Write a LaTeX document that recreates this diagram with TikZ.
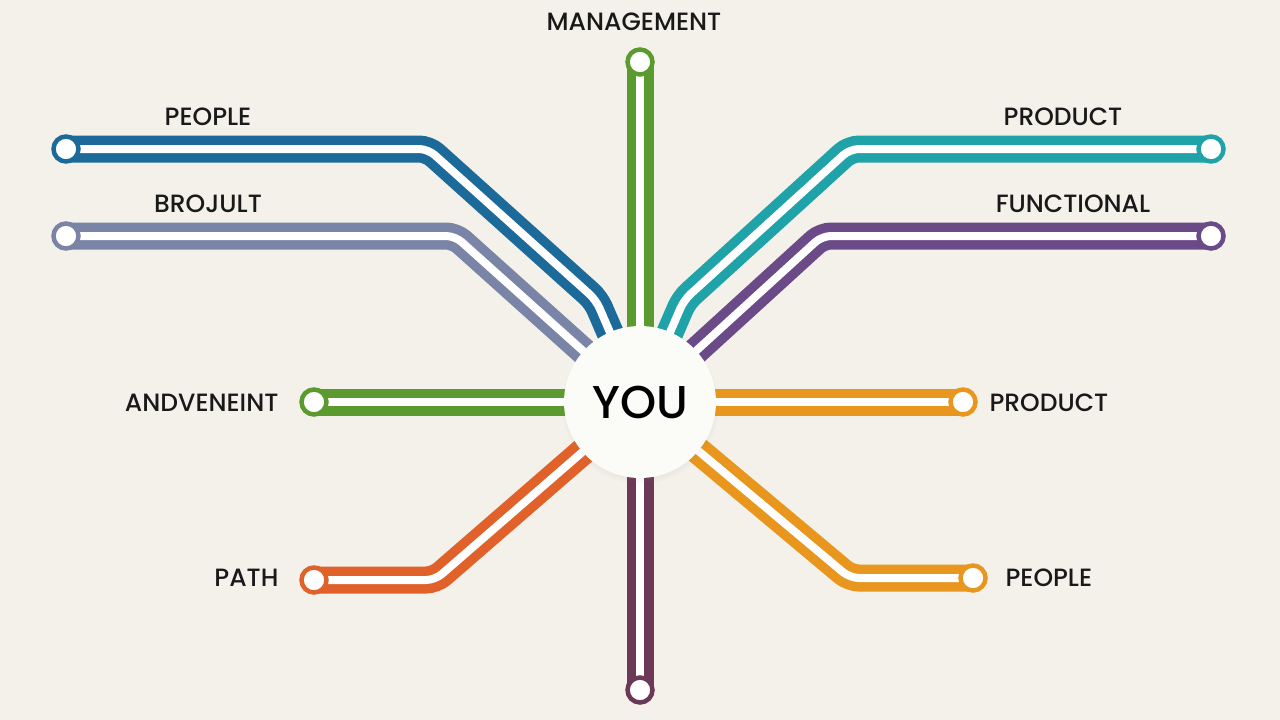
\documentclass[tikz,border=0pt]{standalone}
\usepackage{fontspec}
\setmainfont{Poppins}[UprightFont={* Medium}]
\usetikzlibrary{backgrounds,shadows}

\tikzset{
  metro/.style={line width=9.5pt, draw=#1, double=white, double distance=8pt, rounded corners=9pt},
  stop/.style={circle, draw=#1, line width=4.5pt, fill=white, minimum size=25pt, inner sep=0pt},
  lbl/.style={font=\fontsize{25}{25}\selectfont, text=black!90}
}

\begin{document}
\begin{tikzpicture}[x=1pt,y=-1pt]
% Colors define
\definecolor{myBg}{HTML}{F3F1E9}
\definecolor{myBlue}{HTML}{1B6A9A}
\definecolor{mySlate}{HTML}{7A84A6}
\definecolor{myGreen}{HTML}{5B9A2F}
\definecolor{myTeal}{HTML}{1FA2A8}
\definecolor{myPurple}{HTML}{6A4A87}
\definecolor{myOrange}{HTML}{E8961E}
\definecolor{myRed}{HTML}{E0622A}
\definecolor{myPlum}{HTML}{6C3858}

\useasboundingbox (0,0) rectangle (1280,720);

% The hub in the middle
\node[circle, fill=myBg!30!white, minimum size=152pt,
      circular drop shadow={shadow xshift=0pt, shadow yshift=-3pt, opacity=0.15, shadow scale=1.04},
      font=\fontsize{46}{46}\selectfont] (you) at (640,402) {YOU};

% End stops of the lines
\node[stop=myBlue] (peopleL) at (66,149) {};
\node[stop=mySlate] (brojult) at (66,236) {};
\node[stop=myGreen] (mgmt) at (640,62) {};
\node[stop=myTeal] (productR) at (1211,149) {};
\node[stop=myPurple] (functional) at (1211,236) {};
\node[stop=myGreen] (advent) at (314,402) {};
\node[stop=myOrange] (productM) at (963,402) {};
\node[stop=myRed] (path) at (314,580) {};
\node[stop=myOrange] (peopleR) at (973,578) {};
\node[stop=myPlum] (bottom) at (640,690) {};

% Labels
\node[lbl] at (634,22) {MANAGEMENT};
\node[lbl] at (208,117) {PEOPLE};
\node[lbl] at (208,204) {BROJULT};
\node[lbl] at (1063,117) {PRODUCT};
\node[lbl] at (1073,204) {FUNCTIONAL};
\node[lbl, anchor=east] at (282,403) {ANDVENEINT};
\node[lbl, anchor=west] at (986,403) {PRODUCT};
\node[lbl, anchor=east] at (282,578) {PATH};
\node[lbl, anchor=west] at (1002,578) {PEOPLE};

% Lines, behind the stops and the hub
\begin{scope}[on background layer]
\fill[myBg] (0,0) rectangle (1280,720);
\draw[metro=myBlue] (peopleL.center) -- (428,149) -- (596,300) -- (you.center);
\draw[metro=mySlate] (brojult.center) -- (455,236) -- (you.center);
\draw[metro=myGreen] (mgmt.center) -- (you.center);
\draw[metro=myTeal] (productR.center) -- (850,149) -- (684,300) -- (you.center);
\draw[metro=myPurple] (functional.center) -- (822,236) -- (you.center);
\draw[metro=myGreen] (advent.center) -- (you.center);
\draw[metro=myOrange] (productM.center) -- (you.center);
\draw[metro=myRed] (path.center) -- (435,580) -- (you.center);
\draw[metro=myOrange] (peopleR.center) -- (850,578) -- (you.center);
\draw[metro=myPlum] (bottom.center) -- (you.center);
\end{scope}
\end{tikzpicture}
\end{document}
